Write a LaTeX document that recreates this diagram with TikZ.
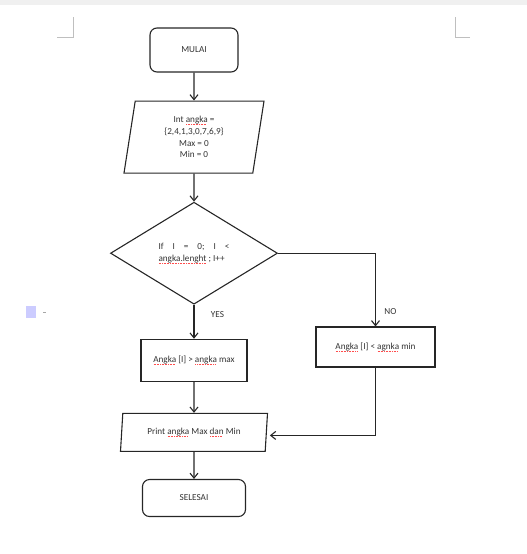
\documentclass[tikz,border=0pt]{standalone}
\usepackage{fontspec}
\setmainfont{Carlito}
\usetikzlibrary{
arrows.meta,
positioning,
shapes.geometric
}
\newcommand{\typo}[1]{\setbox0\hbox{#1}\rlap{\color{red!70}\leaders\hbox to 1.6pt{\hss\rule[-2.2pt]{0.9pt}{0.5pt}\hss}\hskip\wd0}\box0\relax}
\tikzset{>={Straight Barb[length=5pt,width=8pt]}}

\begin{document}
\begin{tikzpicture}[x=1pt,y=-1pt,node distance=28pt,
		every node/.style={font=\fontsize{9.2}{11.8}\selectfont,text=black!80},
		flow/.style={draw=black!85,line width=1.1pt},
		terminal/.style={flow,rectangle,rounded corners=7pt,minimum width=88pt,minimum height=44pt},
		io/.style={flow,trapezium,trapezium left angle=75,trapezium right angle=105,trapezium stretches body,inner sep=0pt,align=center},
		decision/.style={flow,diamond,minimum width=167pt,minimum height=102pt,inner sep=0pt,align=left},
		process/.style={flow,rectangle,align=center}]
		\useasboundingbox (0,0) rectangle (527,554);
		% page marks
		\fill[black!6] (0,0) rectangle (527,5);
		\draw[black!25] (57,37) -- (73,37) -- (73,17);
		\draw[black!25] (470,37) -- (455,37) -- (455,17);
		\fill[blue!20] (26,306) rectangle (36,318);
		\draw[black!35] (43,312) -- (46,312);
		
		\node[terminal] at (194,50) (mulai) {MULAI};
		\node[io,below=of mulai,minimum width=140pt,minimum height=72pt] (input) {Int \typo{angka} =\\\{2,4,1,3,0,7,6,9\}\\Max = 0\\Min = 0};
		\node[decision,below=of input] (cond) {\hbox to 71pt{If\hfill I\hfill =\hfill 0;\hfill I\hfill <}\\\typo{angka.lenght} ; I++};
		\node[process,below=34pt of cond,minimum width=106pt,minimum height=42pt] (yesBox) {\typo{Angka} [I] > \typo{angka} max};
		\node[process,minimum width=119pt,minimum height=40pt] at (375.5,347) (noBox) {\typo{Angka} [I] < \typo{agnka} min};
		\node[io,below=31pt of yesBox,minimum width=147pt,minimum height=38pt] (output) {Print \typo{angka} Max \typo{dan} Min};
		\node[terminal,below=27pt of output,minimum width=103pt,minimum height=37pt] (selesai) {SELESAI};
		\coordinate (join) at ([xshift=3pt,yshift=-3pt]output.east);
		
		\draw[flow,->] (mulai) -- (input);
		\draw[flow,->] (input) -- (cond);
		\draw[flow,->] (cond) -- node[right=13pt,pos=0.3] {YES} (yesBox);
		\draw[flow,->] (cond.east) -| node[right=5pt,pos=0.9] {NO} (noBox.north);
		\draw[flow,->] (yesBox) -- (output);
		\draw[flow,->] (noBox.south) |- (join);
		\draw[flow,->] (output) -- (selesai);
		\end{tikzpicture}
\end{document}
